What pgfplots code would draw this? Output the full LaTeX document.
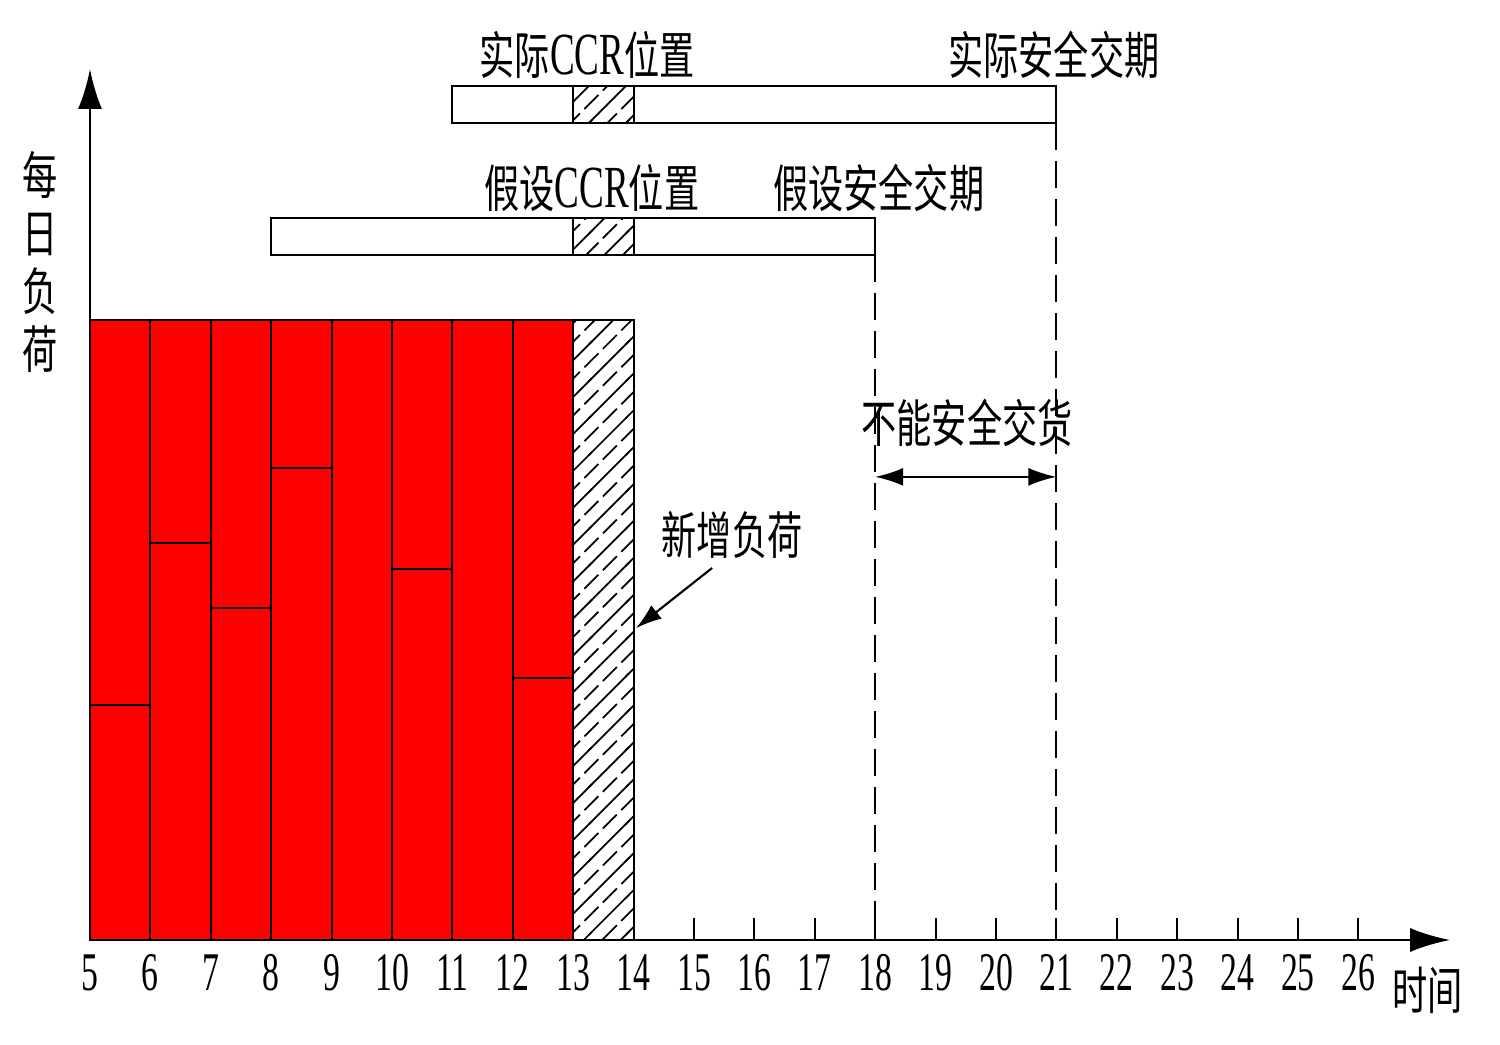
\documentclass[border=0pt]{standalone}
\usepackage{fontspec}
\setmainfont{Liberation Serif}[FakeStretch=0.62]
\newfontfamily\cjk{Noto Sans CJK SC}[FakeStretch=0.69]
\usepackage{pgfplots}
\pgfplotsset{compat=1.18}
\usetikzlibrary{arrows.meta,patterns}

% solid and dashed diagonal lines, alternating
\pgfdeclarepatternformonly{hatchmix}{\pgfpoint{-1pt}{-1pt}}{\pgfpoint{11.5pt}{11.5pt}}{\pgfpoint{10.5pt}{10.5pt}}{
  \pgfsetlinewidth{0.5pt}
  \pgfpathmoveto{\pgfpoint{-0.5pt}{-0.5pt}}
  \pgfpathlineto{\pgfpoint{11pt}{11pt}}
  \pgfusepath{stroke}
  \pgfsetdash{{3.2pt}{1.8pt}}{0pt}
  \pgfpathmoveto{\pgfpoint{5.25pt}{0pt}}
  \pgfpathlineto{\pgfpoint{10.5pt}{5.25pt}}
  \pgfpathmoveto{\pgfpoint{0pt}{5.25pt}}
  \pgfpathlineto{\pgfpoint{5.25pt}{10.5pt}}
  \pgfusepath{stroke}
}

\newcommand\zh{\fontsize{14.5}{16.5}\selectfont\cjk}
\newcommand\lat{\fontsize{17}{20}\selectfont\rmfamily}

\begin{document}
\begin{tikzpicture}
  \begin{axis}[
    at={(0,0)}, anchor=south west,
    x=6.04mm, y=6.2mm,
    xmin=5, xmax=27.52, ymin=0, ymax=14.05,
    enlargelimits=false,
    axis lines=left,
    x axis line style={line width=0.8pt, -{Latex[length=4mm,width=2.4mm]}},
    y axis line style={line width=0.8pt, -{Latex[length=4mm,width=2.4mm]}},
    xtick={5,...,26}, ytick=\empty,
    tick align=inside,
    major tick length=2.2mm,
    tick style={line width=0.6pt, black},
    xticklabel style={font=\fontsize{15.5}{18}\selectfont, inner sep=1.4mm},
    /pgf/number format/assume math mode=true,
    clip=false,
  ]

    % daily load, full height
    \addplot[ybar, bar width=1, bar shift=0pt, fill=red, draw=black, line width=0.6pt]
      coordinates {(5.5,10) (6.5,10) (7.5,10) (8.5,10) (9.5,10) (10.5,10) (11.5,10) (12.5,10)};
    % lower parts (split lines)
    \addplot[ybar, bar width=1, bar shift=0pt, fill=red, draw=black, line width=0.6pt]
      coordinates {(5.5,3.79) (6.5,6.40) (7.5,5.35) (8.5,7.61) (10.5,5.98) (12.5,4.23)};

    % new load
    \addplot[draw=black, pattern=hatchmix, line width=0.6pt]
      coordinates {(13,0) (14,0) (14,10) (13,10)} -- cycle;

    % assumed / actual schedule bars
    \addplot[draw=black, fill=white, line width=0.6pt]
      coordinates {(8,11.05) (18,11.05) (18,11.65) (8,11.65)} -- cycle;
    \addplot[draw=black, pattern=hatchmix, line width=0.6pt]
      coordinates {(13,11.05) (14,11.05) (14,11.65) (13,11.65)} -- cycle;
    \addplot[draw=black, fill=white, line width=0.6pt]
      coordinates {(11,13.18) (21,13.18) (21,13.77) (11,13.77)} -- cycle;
    \addplot[draw=black, pattern=hatchmix, line width=0.6pt]
      coordinates {(13,13.18) (14,13.18) (14,13.77) (13,13.77)} -- cycle;

    % due dates
    \addplot[black, line width=0.6pt, dash pattern=on 2.7mm off 1.1mm]
      coordinates {(18,11.05) (18,0)};
    \addplot[black, line width=0.6pt, dash pattern=on 2.7mm off 1.1mm]
      coordinates {(21,13.18) (21,0)};

    \addplot[black, line width=0.6pt, {Latex[length=2.8mm,width=1.8mm]}-{Latex[length=2.8mm,width=1.8mm]}]
      coordinates {(18,7.47) (21,7.47)};
    \addplot[black, line width=0.6pt, -{Latex[length=2.6mm,width=1.7mm]}]
      coordinates {(15.30,6.0) (14.04,5.03)};

    \node[font=\zh] at (axis cs:13.23,14.27) {实际{\lat CCR}位置};
    \node[font=\zh] at (axis cs:20.96,14.27) {实际安全交期};
    \node[font=\zh] at (axis cs:13.31,12.13) {假设{\lat CCR}位置};
    \node[font=\zh] at (axis cs:18.06,12.13) {假设安全交期};
    \node[font=\zh] at (axis cs:19.52,8.34) {不能安全交货};
    \node[font=\zh] at (axis cs:15.63,6.53) {新增负荷};
    \node[font=\zh, align=center] at (axis cs:4.17,10.94) {每\\日\\负\\荷};
    \node[font=\zh] at (axis cs:27.15,-0.81) {时间};
  \end{axis}
  \pgfresetboundingbox
  \path (-9mm,-10.4mm) rectangle (141mm,94mm);
\end{tikzpicture}
\end{document}
